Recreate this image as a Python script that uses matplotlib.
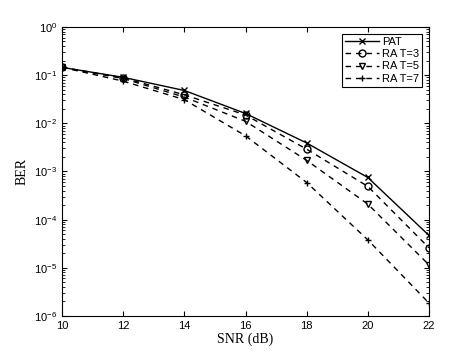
import matplotlib
matplotlib.use('Agg')
import matplotlib.pyplot as plt
import numpy as np

# SNR (dB) и значения BER
snr = [10, 12, 14, 16, 18, 20, 22]
ber_pat = [0.145, 0.090, 0.048, 0.016, 0.0039, 7.5e-4, 4.7e-5]
ber_t3 = [0.145, 0.088, 0.039, 0.0149, 0.0029, 4.9e-4, 2.6e-5]
ber_t5 = [0.145, 0.085, 0.035, 0.011, 0.0017, 2.1e-4, 1.15e-5]
ber_t7 = [0.145, 0.075, 0.031, 0.0055, 5.9e-4, 3.8e-5, 1.85e-6]

labels = ['PAT', 'RA T=3', 'RA T=5', 'RA T=7']

# стиль: (маркер, линия)
plot_styles = [
    ('x', '-'),
    ('o', '--'),
    ('v', '--'),
    ('+', '--'),
]

plt.rcParams['font.family'] = ['Liberation Sans', 'DejaVu Sans']

fig = plt.figure(figsize=(4.74, 3.55), dpi=100)
ax = fig.add_axes([0.131, 0.110, 0.774, 0.814])

for y, label, (marker, ls) in zip([ber_pat, ber_t3, ber_t5, ber_t7], labels, plot_styles):
    ax.semilogy(snr, y, color='black', linestyle=ls, marker=marker, markersize=5,
                markerfacecolor='none', markeredgewidth=1.0, linewidth=1.0,
                dashes=(4, 3.5) if ls == '--' else (None, None), label=label)

ax.set_xlim(10, 22)
ax.set_ylim(1e-6, 1)
ax.set_xticks([10, 12, 14, 16, 18, 20, 22])
ax.tick_params(axis='both', which='both', direction='in', top=True, right=True, labelsize=8)
ax.tick_params(axis='x', which='minor', bottom=False, top=False)

ax.set_xlabel('SNR (dB)', family='Liberation Serif', fontsize=10, labelpad=1)
ax.set_ylabel('BER', family='Liberation Serif', fontsize=10)

leg = ax.legend(loc='upper right', fontsize=8, frameon=True, fancybox=False,
                edgecolor='black', framealpha=1, handlelength=3, borderpad=0.3,
                labelspacing=0.2, handletextpad=0.3, borderaxespad=0.6)
leg.get_frame().set_linewidth(0.8)

plt.savefig('out.png', dpi=100)
